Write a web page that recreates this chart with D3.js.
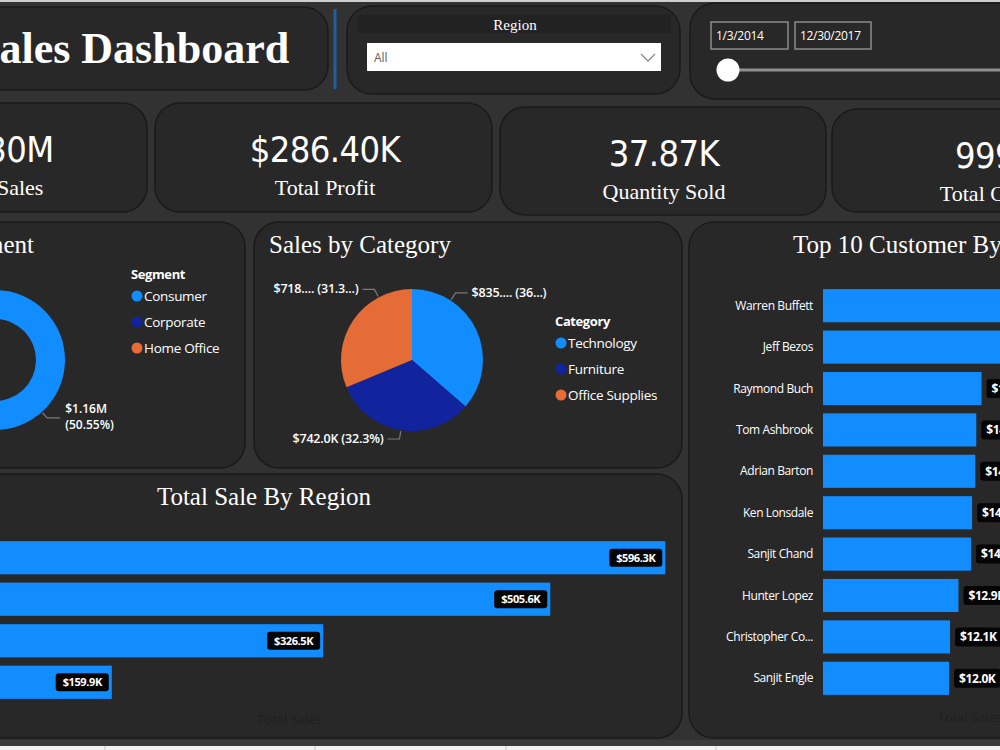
<!DOCTYPE html>
<meta charset="utf-8">
<style>
body { margin: 0; background: #323232; }
svg { display: block; }
.panel { fill: #282828; stroke: #1a1a1a; stroke-width: 1.5; }
.serif { font-family: "Liberation Serif", "Times New Roman", serif; fill: #fff; }
.ui { font-family: "Open Sans", "Noto Sans", sans-serif; fill: #fff; }
.kpi { font-family: "DejaVu Sans Condensed", "DejaVu Sans", sans-serif; fill: #fff; }
.lead { fill: none; stroke: #7a7a7a; stroke-width: 1.2; }
</style>
<svg width="1000" height="750"></svg>
<script src="https://d3js.org/d3.v7.min.js"></script>
<script>

var kpiValues = ["$2.30M", "$286.40K", "37.87K", "9994"];
var kpiNames = ["Total Sales", "Total Profit", "Quantity Sold", "Total Orders"];

var segments = ["Consumer", "Corporate", "Home Office"];
var segmentSales = [1161.4, 706.1, 429.7]; // $K
var segmentLabels = [["$1.16M", "(50.55%)"], ["$706.15K", "(30.74%)"], ["$429.65K", "(18.71%)"]];

var categories = ["Technology", "Furniture", "Office Supplies"];
var categorySales = [835.9, 742.0, 718.8]; // $K
var categoryLabels = ["$835.... (36...)", "$742.0K (32.3%)", "$718.... (31.3...)"];

var regions = ["West", "East", "Central", "South"];
var regionSales = [596.3, 505.6, 326.5, 159.9]; // $K
var regionLabels = ["$596.3K", "$505.6K", "$326.5K", "$159.9K"];

var customers = ["Warren Buffett", "Jeff Bezos", "Raymond Buch", "Tom Ashbrook", "Adrian Barton",
  "Ken Lonsdale", "Sanjit Chand", "Hunter Lopez", "Christopher Co...", "Sanjit Engle"];
var customerSales = [25.0, 19.1, 15.1, 14.6, 14.5, 14.2, 14.1, 12.9, 12.1, 12.0]; // $K
var customerLabels = ["$25.0K", "$19.1K", "$15.1K", "$14.6K", "$14.5K", "$14.2K", "$14.1K", "$12.9K", "$12.1K", "$12.0K"];

var dateRange = ["1/3/2014", "12/30/2017"];

var colors = ["#118DFF", "#12239E", "#E66C37"];

var svg = d3.select("svg");

// page frame
svg.append("rect").attr("width", 1000).attr("height", 750).attr("fill", "#323232");
svg.append("rect").attr("width", 1000).attr("height", 2).attr("fill", "#cfcfcf");
svg.append("rect").attr("y", 740).attr("width", 1000).attr("height", 6).attr("fill", "#3b3b3b");
svg.append("rect").attr("y", 746).attr("width", 1000).attr("height", 4).attr("fill", "#f2f2f2");
[105, 315, 506, 716].forEach(function(x) {
  svg.append("line").attr("x1", x).attr("x2", x).attr("y1", 746).attr("y2", 750)
    .attr("stroke", "#c8c8c8");
});

function panel(x, y, w, h, r) {
  svg.append("rect").attr("class", "panel")
    .attr("x", x).attr("y", y).attr("width", w).attr("height", h)
    .attr("rx", r || 25);
}

// ---- header ----
panel(-60, 7, 388, 83, 24);
svg.append("text").attr("class", "serif")
    .attr("x", -25).attr("y", 63)
    .attr("font-size", 44).attr("font-weight", "bold")
    .text("Sales Dashboard");
svg.append("line").attr("x1", 335).attr("x2", 335).attr("y1", 9).attr("y2", 89)
    .attr("stroke", "#1f5fa0").attr("stroke-width", 3);

// region slicer
panel(347, 6, 333, 88, 25);
svg.append("rect").attr("x", 357).attr("y", 15).attr("width", 314).attr("height", 18).attr("fill", "#222");
svg.append("text").attr("class", "serif").attr("x", 515).attr("y", 30)
    .attr("text-anchor", "middle").attr("font-size", 15).text("Region");
svg.append("rect").attr("x", 367).attr("y", 43).attr("width", 294).attr("height", 28).attr("fill", "#fff");
svg.append("text").attr("class", "ui").attr("x", 374).attr("y", 62)
    .attr("font-size", 12).style("fill", "#605e5c").text("All");
svg.append("path").attr("d", "M641,54 L648,61 L655,54").attr("fill", "none")
    .attr("stroke", "#8a8a8a").attr("stroke-width", 1.3);

// date slicer
panel(690, 3, 360, 96, 25);
var dateX = [711, 795], dateW = [77, 76];
dateRange.forEach(function(d, i) {
  svg.append("rect").attr("x", dateX[i]).attr("y", 22).attr("width", dateW[i]).attr("height", 27)
    .attr("fill", "none").attr("stroke", "#8a8a8a").attr("stroke-width", 1.5);
  svg.append("text").attr("class", "ui").attr("x", dateX[i] + 5).attr("y", 40)
    .attr("font-size", 12).attr("letter-spacing", -0.3).text(d);
});
svg.append("line").attr("x1", 735).attr("x2", 1000).attr("y1", 70).attr("y2", 70)
    .attr("stroke", "#8f8f8f").attr("stroke-width", 3);
svg.append("circle").attr("cx", 728).attr("cy", 70).attr("r", 11.5).attr("fill", "#fff");

// ---- KPI cards ----
var kpiBox = [[-200, 103, 347, 109], [155, 103, 337, 109], [500, 107, 326, 108], [832, 109, 250, 103]];
var kpiCenter = [-5, 325, 664, 995];
kpiValues.forEach(function(v, i) {
  var b = kpiBox[i];
  panel(b[0], b[1], b[2], b[3], 25);
  svg.append("text").attr("class", "kpi").attr("x", kpiCenter[i]).attr("y", b[1] + 59)
      .attr("text-anchor", "middle").attr("font-size", 36).attr("letter-spacing", -0.6).text(v);
  svg.append("text").attr("class", "serif").attr("x", kpiCenter[i]).attr("y", b[1] + 92)
      .attr("text-anchor", "middle").attr("font-size", 22).text(kpiNames[i]);
});

// helpers for pies
function polar(a, r) { return [r * Math.sin(a), -r * Math.cos(a)]; }
var deg = Math.PI / 180;

function legend(x, y, title, items) {
  svg.append("text").attr("class", "ui").attr("x", x).attr("y", y + 5)
      .attr("font-size", 13).attr("font-weight", "bold").attr("letter-spacing", -0.4).text(title);
  items.forEach(function(t, i) {
    var yy = y + 22 + i * 26;
    svg.append("circle").attr("cx", x + 6).attr("cy", yy).attr("r", 5.5).attr("fill", colors[i]);
    svg.append("text").attr("class", "ui").attr("x", x + 13).attr("y", yy + 5)
        .attr("font-size", 13.5).attr("letter-spacing", -0.3).text(t);
  });
}

// ---- Sales by Segment (donut) ----
panel(-200, 222, 445, 246, 25);
svg.append("text").attr("class", "serif").attr("x", 34).attr("y", 253)
    .attr("text-anchor", "end").attr("font-size", 25).text("Sales by Segment");

var segPie = d3.pie().sort(null)(segmentSales);
var segArc = d3.arc().innerRadius(41).outerRadius(70);
var segG = svg.append("g").attr("transform", "translate(-5,360)");
segG.selectAll("path").data(segPie).enter().append("path")
    .attr("d", segArc).attr("fill", function(d, i) { return colors[i]; });

// label angles chosen the way the report lays them out
var segLabelAngle = [138, 237, 326];
segPie.forEach(function(d, i) {
  var a = segLabelAngle[i] * deg, p0 = polar(a, 71), p1 = polar(a, 78);
  var right = Math.sin(a) > 0, p2 = [p1[0] + (right ? 13 : -13), p1[1]];
  segG.append("path").attr("class", "lead")
      .attr("d", "M" + p0 + "L" + p1 + "L" + p2);
  var t = segG.append("text").attr("class", "ui").attr("font-size", 12).attr("font-weight", 600)
      .attr("text-anchor", right ? "start" : "end");
  segmentLabels[i].forEach(function(s, k) {
    t.append("tspan").attr("x", p2[0] + (right ? 5 : -5)).attr("y", p2[1] - 5 + k * 16).text(s);
  });
});
legend(131, 274, "Segment", segments);

// ---- Sales by Category (pie) ----
panel(254, 222, 428, 246, 25);
svg.append("text").attr("class", "serif").attr("x", 269).attr("y", 253)
    .attr("font-size", 25).text("Sales by Category");

var catPie = d3.pie().sort(null)(categorySales);
var catArc = d3.arc().innerRadius(0).outerRadius(71);
var catG = svg.append("g").attr("transform", "translate(412,360)");
catG.selectAll("path").data(catPie).enter().append("path")
    .attr("d", catArc).attr("fill", function(d, i) { return colors[i]; });

var catLabelAngle = [33, 189, 332];
catPie.forEach(function(d, i) {
  var a = catLabelAngle[i] * deg, p0 = polar(a, 72), p1 = polar(a, 80);
  var right = Math.sin(a) > 0, p2 = [p1[0] + (right ? 12 : -12), p1[1]];
  catG.append("path").attr("class", "lead")
      .attr("d", "M" + p0 + "L" + p1 + "L" + p2);
  catG.append("text").attr("class", "ui").attr("font-size", 12.5).attr("font-weight", 600)
      .attr("letter-spacing", -0.2)
      .attr("text-anchor", right ? "start" : "end")
      .attr("x", p2[0] + (right ? 4 : -4)).attr("y", p2[1] + 4)
      .text(categoryLabels[i]);
});
legend(555, 321, "Category", categories);

// data label box
function valueBox(g, x, y, txt, anchor, size, h, pad) {
  var t = g.append("text").attr("class", "ui").attr("font-size", size).attr("font-weight", "bold")
      .attr("letter-spacing", -0.4).attr("x", x).attr("y", y + size * 0.36).text(txt);
  var tw = t.node().getComputedTextLength(), w = tw + 2 * pad;
  var bx = anchor === "end" ? x - w : x;
  t.attr("x", bx + pad);
  g.insert("rect", "text")
      .attr("x", bx).attr("y", y - h / 2).attr("width", w).attr("height", h)
      .attr("rx", 3).attr("fill", "#050505");
}

// ---- Total Sale By Region ----
panel(-200, 474, 882, 264, 25);
svg.append("text").attr("class", "serif").attr("x", 264).attr("y", 505)
    .attr("text-anchor", "middle").attr("font-size", 25).text("Total Sale By Region");

var rx = d3.scaleLinear().domain([0, 600]).range([-91, 670]);
var ry = d3.scaleBand().domain(regions).range([537, 703]).paddingInner(0.2).paddingOuter(0.1);
var regG = svg.append("g");
regG.selectAll("rect.bar").data(regions).enter().append("rect").attr("class", "bar")
    .attr("x", rx(0)).attr("y", function(d) { return ry(d); })
    .attr("width", function(d, i) { return rx(regionSales[i]) - rx(0); })
    .attr("height", ry.bandwidth()).attr("fill", colors[0]);
regions.forEach(function(d, i) {
  regG.append("text").attr("class", "ui").attr("x", rx(0) - 10).attr("y", ry(d) + ry.bandwidth() / 2 + 4)
      .attr("text-anchor", "end").attr("font-size", 12).text(d);
  var lg = regG.append("g");
  valueBox(lg, rx(regionSales[i]) - 3, ry(d) + ry.bandwidth() / 2, regionLabels[i], "end", 11, 18, 7);
});
svg.append("text").attr("class", "ui").attr("x", (rx.range()[0] + rx.range()[1]) / 2).attr("y", 724)
    .attr("text-anchor", "middle").attr("font-size", 13).style("fill", "#1f1f1f").text("Total Sales");

// ---- Top 10 Customer By Sales ----
panel(689, 222, 400, 516, 25);
svg.append("text").attr("class", "serif").attr("x", 793).attr("y", 253)
    .attr("font-size", 25).text("Top 10 Customer By Sales");

var cx = d3.scaleLinear().domain([0, 28]).range([823, 1117]);
var cy = d3.scaleBand().domain(customers).range([285, 699]).paddingInner(0.2).paddingOuter(0.1);
var cuG = svg.append("g");
cuG.selectAll("rect.bar").data(customers).enter().append("rect").attr("class", "bar")
    .attr("x", cx(0)).attr("y", function(d) { return cy(d); })
    .attr("width", function(d, i) { return cx(customerSales[i]) - cx(0); })
    .attr("height", cy.bandwidth()).attr("fill", colors[0]);
customers.forEach(function(d, i) {
  cuG.append("text").attr("class", "ui").attr("x", 813).attr("y", cy(d) + cy.bandwidth() / 2 + 4)
      .attr("text-anchor", "end").attr("font-size", 12).attr("letter-spacing", -0.4).text(d);
  var lg = cuG.append("g");
  valueBox(lg, cx(customerSales[i]) + 5, cy(d) + cy.bandwidth() / 2, customerLabels[i], "start", 12, 19, 5);
});
svg.append("text").attr("class", "ui").attr("x", (cx.range()[0] + cx.range()[1]) / 2).attr("y", 722)
    .attr("text-anchor", "middle").attr("font-size", 13).style("fill", "#1f1f1f").text("Total Sales");

</script>
